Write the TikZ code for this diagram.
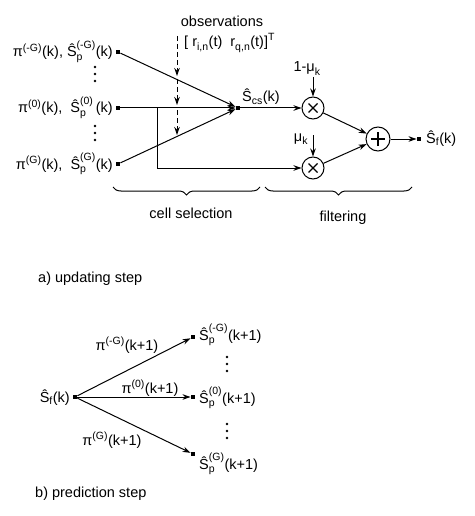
\documentclass[tikz,border=0pt]{standalone}
\usepackage{fontspec}
\setmainfont{Liberation Sans}
\usetikzlibrary{arrows.meta,decorations.pathreplacing}
\newcommand\scr[1]{\mbox{\fontsize{10.5}{10.5}\selectfont #1}}
\newcommand\Sh{\mbox{Ŝ}}
\begin{document}
\begin{tikzpicture}[x=1pt,y=-1pt,
  font=\fontsize{14.5}{16}\selectfont,
  dotn/.style={rectangle,fill=black,minimum size=4.5pt,inner sep=0pt},
  arr/.style={-{Stealth[length=8pt,width=5.5pt]},line width=1pt},
  dash arr/.style={arr,dash pattern=on 5pt off 3pt},
  opn/.style={circle,draw,line width=1pt,minimum size=22pt,inner sep=0pt},
  lbl/.style={inner sep=0pt},
  vdots/.style={circle,fill=black,minimum size=2.6pt,inner sep=0pt},
  brc/.style={decorate,decoration={brace,mirror,amplitude=8pt},line width=1pt}]
\useasboundingbox (0,0) rectangle (474,516);
% ---------- a) updating step ----------
\node[dotn] (s1) at (118,52) {};
\node[dotn] (s0) at (118,108) {};
\node[dotn] (s2) at (118,164) {};
\node[lbl,anchor=base east] (l1) at (113,57) {$\mbox{π}^{\scr{(-G)}}\mbox{(k), }\Sh^{\scr{(-G)}}_{\scr{p}}\mbox{(k)}$};
\node[lbl,anchor=base east] (l0) at (113,113) {$\mbox{π}^{\scr{(0)}}\mbox{(k),\ \ }\Sh^{\scr{(0)}}_{\scr{p}}\mbox{\,(k)}$};
\node[lbl,anchor=base east] (l2) at (113,169) {$\mbox{π}^{\scr{(G)}}\mbox{(k),\ \ }\Sh^{\scr{(G)}}_{\scr{p}}\mbox{(k)}$};
\foreach \y [count=\i] in {67,74,81} \node[vdots] (da\i) at (95,\y) {};
\foreach \y [count=\i] in {126,133,140} \node[vdots] (db\i) at (95,\y) {};
\node[dotn] (scs) at (238,108) {};
\node[lbl,anchor=base west] (scsl) at (242,102) {$\Sh_{\scr{cs}}\mbox{(k)}$};
\node[lbl,anchor=base] (obs) at (222,27) {observations};
\node[lbl,anchor=base west] (obs2) at (184,47) {$\mbox{[ r}_{\scr{i,n}}\mbox{(t)\ \ r}_{\scr{q,n}}\mbox{(t)]}^{\scr{T}}$};
\draw[arr] (s1) -- (scs);
\draw[arr] (s0) -- (scs);
\draw[arr] (s2) -- (scs);
\coordinate (br) at (157,108);
\node[opn,path picture={\draw[line width=1.1pt] ([shift={(-4.5pt,-4.5pt)}]path picture bounding box.center) -- ++(9pt,9pt) ([shift={(-4.5pt,4.5pt)}]path picture bounding box.center) -- ++(9pt,-9pt);}] (m1) at (313,108) {};
\node[opn,path picture={\draw[line width=1.1pt] ([shift={(-4.5pt,-4.5pt)}]path picture bounding box.center) -- ++(9pt,9pt) ([shift={(-4.5pt,4.5pt)}]path picture bounding box.center) -- ++(9pt,-9pt);}] (m2) at (313,168) {};
\node[opn,minimum size=24pt,path picture={\draw[line width=1.1pt] ([shift={(-7pt,0pt)}]path picture bounding box.center) -- ++(14pt,0pt) ([shift={(0pt,-7pt)}]path picture bounding box.center) -- ++(0pt,14pt);}] (pl) at (378,139) {};
\node[dotn] (sf) at (419,139) {};
\node[lbl,anchor=base west] (sfl) at (426,143) {$\Sh_{\scr{f}}\mbox{(k)}$};
\draw[arr] (br) |- (m2);
\draw[arr] (scs) -- (m1);
\draw[arr] (m1) -- (pl);
\draw[arr] (m2) -- (pl);
\draw[arr] (pl) -- (sf);
\node[lbl,anchor=base] (mu1) at (307,72) {$\mbox{1-μ}_{\scr{k}}$};
\node[lbl,anchor=base] (mu2) at (301,141) {$\mbox{μ}_{\scr{k}}$};
\coordinate (mu1a) at (313,77);
\coordinate (mu2a) at (313,135);
\draw[arr] (mu1a) -- (m1);
\draw[arr] (mu2a) -- (m2);
\coordinate (o0) at (177,36);
\coordinate (o1) at (177,76);
\coordinate (o1b) at (177,79);
\coordinate (o2) at (177,105);
\coordinate (o2b) at (177,110);
\coordinate (o3) at (177,135);
\draw[dash arr] (o0) -- (o1);
\draw[dash arr] (o1b) -- (o2);
\draw[dash arr] (o2b) -- (o3);
\coordinate (b1a) at (113,187);
\coordinate (b1b) at (260,187);
\coordinate (b2a) at (265,187);
\coordinate (b2b) at (412,187);
\draw[brc] (b1a) -- (b1b);
\draw[brc] (b2a) -- (b2b);
\node[lbl,anchor=base] (cs) at (191,218) {cell selection};
\node[lbl,anchor=base] (fi) at (343,221) {filtering};
\node[lbl,anchor=base west] (ta) at (38,282) {a) updating step};
% ---------- b) prediction step ----------
\node[dotn] (bf) at (75,397) {};
\node[lbl,anchor=base east] (bfl) at (70,402) {$\Sh_{\scr{f}}\mbox{(k)}$};
\node[dotn] (t1) at (193,337) {};
\node[dotn] (t0) at (193,397) {};
\node[dotn] (t2) at (193,454) {};
\node[lbl,anchor=base west] (t1l) at (199,340) {$\Sh^{\scr{(-G)}}_{\scr{p}}\mbox{(k+1)}$};
\node[lbl,anchor=base west] (t0l) at (199,403) {$\Sh^{\scr{(0)}}_{\scr{p}}\mbox{(k+1)}$};
\node[lbl,anchor=base west] (t2l) at (199,469) {$\Sh^{\scr{(G)}}_{\scr{p}}\mbox{(k+1)}$};
\foreach \y [count=\i] in {357,364,371} \node[vdots] (dc\i) at (227,\y) {};
\foreach \y [count=\i] in {424,431,438} \node[vdots] (dd\i) at (227,\y) {};
\draw[arr] (bf) -- (t1);
\draw[arr] (bf) -- (t0);
\draw[arr] (bf) -- (t2);
\node[lbl,anchor=base] (p1) at (127,350) {$\mbox{π}^{\scr{(-G)}}\mbox{(k+1)}$};
\node[lbl,anchor=base] (p0) at (150,393) {$\mbox{π}^{\scr{(0)}}\mbox{(k+1)}$};
\node[lbl,anchor=base] (p2) at (112,445) {$\mbox{π}^{\scr{(G)}}\mbox{(k+1)}$};
\node[lbl,anchor=base west] (tb) at (35,497) {b) prediction step};
\end{tikzpicture}
\end{document}
